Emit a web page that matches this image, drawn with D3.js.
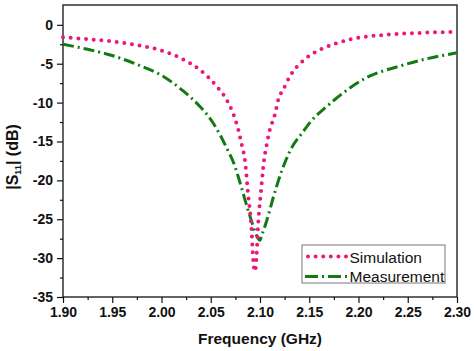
<!DOCTYPE html>
<html><head><meta charset="utf-8">
<script src="https://cdn.jsdelivr.net/npm/d3@7"></script>
<style>body{margin:0;background:#fff}svg{display:block}text{font-family:Arial,"Liberation Sans",sans-serif}</style>
</head><body><svg id="c" width="474" height="351"></svg>
<script>
const xTicks = [1.90,1.95,2.00,2.05,2.10,2.15,2.20,2.25,2.30];
const yTicks = [0,-5,-10,-15,-20,-25,-30,-35];
const simFreq = [1.900,1.925,1.955,1.975,2.000,2.020,2.040,2.056,2.066,2.073,2.078,2.0814,2.0848,2.0878,2.0916,2.093,2.095,2.0965,2.098,2.101,2.104,2.1068,2.110,2.1152,2.1186,2.1237,2.130,2.1457,2.161,2.175,2.191,2.225,2.260,2.300];
const simVal  = [-1.6,-1.85,-2.2,-2.6,-3.3,-4.3,-5.9,-7.9,-9.6,-11.5,-13.5,-15.4,-17.5,-21.6,-26.7,-30.1,-31.7,-29.7,-25.9,-21.4,-17.5,-15.4,-13.5,-11.5,-9.6,-8.3,-6.7,-4.4,-3.2,-2.5,-1.9,-1.3,-1.05,-0.9];
const meaFreq = [1.900,1.925,1.950,1.975,2.000,2.022,2.039,2.049,2.0543,2.066,2.0746,2.0797,2.0898,2.0966,2.100,2.1017,2.1068,2.1135,2.122,2.1305,2.144,2.1525,2.1677,2.176,2.208,2.242,2.270,2.300];
const meaVal  = [-2.5,-3.15,-3.95,-5.1,-6.5,-8.5,-10.5,-12.0,-13.0,-15.8,-18.2,-20.3,-24.6,-27.1,-27.7,-27.1,-25.2,-22.2,-18.8,-16.2,-13.7,-12.3,-10.5,-9.6,-6.8,-5.3,-4.35,-3.6];
const seriesNames = ["Simulation","Measurement"];

const svg = d3.select("#c");
const L=63,R=457,T=5,B=297;
const x = d3.scaleLinear().domain([1.90,2.30]).range([L,R]);
const y = d3.scaleLinear().domain([-35,2.55]).range([B,T]);
const font = 'Arial,"Liberation Sans",sans-serif';

// minor ticks
const xMinor = d3.range(0,16).map(i=>1.925+i*0.05).filter(v=>v<2.30);
const yMinor = d3.range(0,8).map(i=>-32.5+i*5).filter(v=>v<2.5);
svg.append("g").attr("transform",`translate(0,${B})`)
  .call(d3.axisBottom(x).tickValues(xMinor).tickSize(3).tickFormat(""))
  .call(g=>g.select(".domain").remove());
svg.append("g").attr("transform",`translate(${L},0)`)
  .call(d3.axisLeft(y).tickValues(yMinor).tickSize(3).tickFormat(""))
  .call(g=>g.select(".domain").remove());
const gx = svg.append("g").attr("transform",`translate(0,${B})`)
  .call(d3.axisBottom(x).tickValues(xTicks).tickSize(6).tickPadding(4).tickFormat(d3.format(".2f")));
const gy = svg.append("g").attr("transform",`translate(${L},0)`)
  .call(d3.axisLeft(y).tickValues(yTicks).tickSize(6).tickPadding(4).tickFormat(d=>d===0?"0":String(d)));
[gx,gy].forEach(g=>{
  g.selectAll("text").attr("font-family",font).attr("font-size",14).attr("font-weight","bold").attr("fill","#111");
  g.select(".domain").remove();
});
svg.selectAll(".tick line").attr("stroke","#111").attr("stroke-width",1.2);

// frame
svg.append("rect").attr("x",L).attr("y",T).attr("width",R-L).attr("height",B-T)
  .attr("fill","none").attr("stroke","#111").attr("stroke-width",1.3);

const line = d3.line().x(d=>x(d[0])).y(d=>y(d[1])).curve(d3.curveMonotoneX);
const pink="#ec1879", green="#127a12";
const simData = simFreq.map((f,i)=>[f,simVal[i]]);
const meaData = meaFreq.map((f,i)=>[f,meaVal[i]]);
svg.append("path").datum(meaData).attr("d",line).attr("fill","none")
  .attr("stroke",green).attr("stroke-width",3).attr("stroke-dasharray","11,4,2,4");
svg.append("path").datum(simData).attr("d",line).attr("fill","none")
  .attr("stroke",pink).attr("stroke-width",4).attr("stroke-linecap","round").attr("stroke-dasharray","0,7.7");

// legend
const lg = svg.append("g");
lg.append("rect").attr("x",302).attr("y",245).attr("width",143).attr("height",38)
  .attr("fill","#fff").attr("stroke","#777").attr("stroke-width",1);
lg.append("line").attr("x1",308).attr("x2",346).attr("y1",256.5).attr("y2",256.5)
  .attr("stroke",pink).attr("stroke-width",4).attr("stroke-linecap","round").attr("stroke-dasharray","0,7.6");
lg.append("line").attr("x1",305).attr("x2",347).attr("y1",276.5).attr("y2",276.5)
  .attr("stroke",green).attr("stroke-width",3).attr("stroke-dasharray","13,4,2,4");
lg.selectAll("text.lt").data(seriesNames).enter().append("text")
  .attr("x",349.5).attr("y",(d,i)=>262.5+i*19.5).attr("font-family",font).attr("font-size",15.5).attr("fill","#111").text(d=>d);

// axis titles
svg.append("text").attr("x",260).attr("y",344).attr("text-anchor","middle")
  .attr("font-family",font).attr("font-size",15.5).attr("font-weight","bold").attr("fill","#111").text("Frequency (GHz)");
const yt = svg.append("text").attr("transform","translate(18,157) rotate(-90)").attr("text-anchor","middle")
  .attr("font-family",font).attr("font-size",16).attr("font-weight","bold").attr("fill","#111");
yt.append("tspan").text("|S");
yt.append("tspan").attr("font-size",9).attr("dy",3).text("11");
yt.append("tspan").attr("dy",-3).text("| (dB)");
</script></body></html>
